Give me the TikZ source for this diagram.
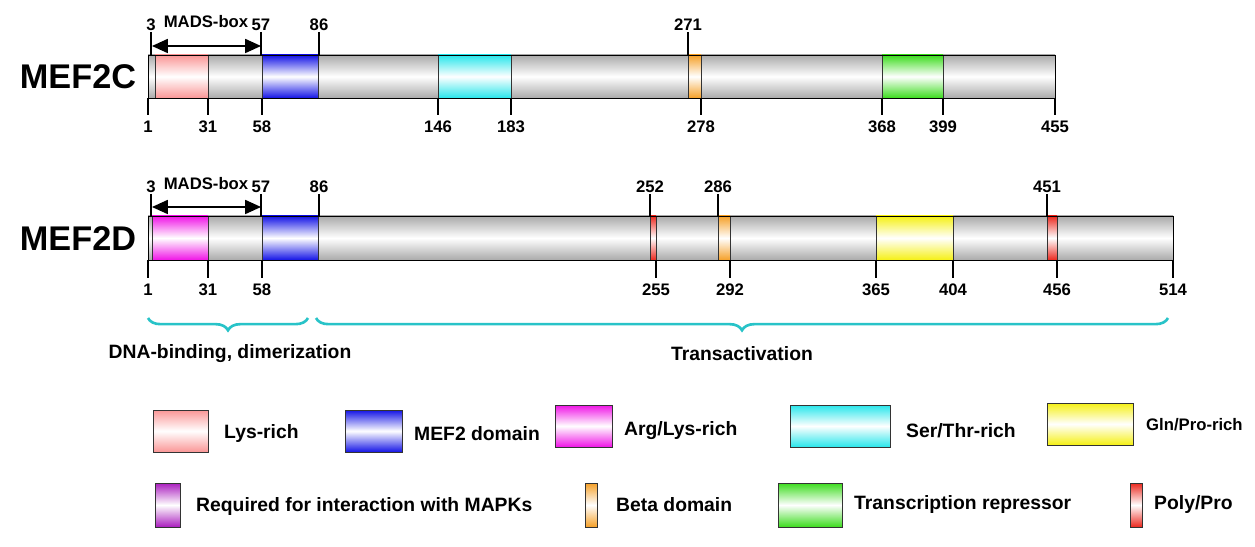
\documentclass[tikz,border=0pt]{standalone}
\usepackage{fontspec}
\setmainfont{Liberation Sans}
\usetikzlibrary{arrows.meta,decorations.pathreplacing}
\definecolor{gr}{RGB}{170,170,170}
\definecolor{pk}{RGB}{250,150,150}
\definecolor{bl}{RGB}{20,20,230}
\definecolor{mg}{RGB}{240,20,230}
\definecolor{cy}{RGB}{40,230,235}
\definecolor{yl}{RGB}{245,240,20}
\definecolor{or}{RGB}{245,160,40}
\definecolor{gn}{RGB}{60,220,30}
\definecolor{rd}{RGB}{235,40,30}
\definecolor{pu}{RGB}{170,30,190}
\definecolor{tl}{RGB}{40,195,200}
\tikzset{
 seg/.style={top color=#1, bottom color=#1, middle color=white, draw=black!80, line width=0.5pt},
 num/.style={font=\bfseries\fontsize{9.5}{10}\selectfont, inner sep=1pt},
 tick/.style={line width=0.6pt},
 leg/.style={font=\bfseries\fontsize{11}{12}\selectfont, anchor=west},
 big/.style={font=\bfseries\fontsize{19.5}{22}\selectfont},
 brace/.style={draw=tl, line width=1.5pt, decorate, decoration={brace, mirror, amplitude=7pt}}
}
\begin{document}
\begin{tikzpicture}[x=0.02cm,y=-0.02cm]
\useasboundingbox (0,0) rectangle (1255,547);
% ---------- MEF2C ----------
\node[big] (c) at (78,77) {MEF2C};
\shade[seg=gr] (148,55) rectangle (1055,98);
\shade[seg=pk] (155,55) rectangle (208,98);
\shade[seg=bl] (262,55) rectangle (318,98);
\shade[seg=cy] (438,55) rectangle (511,98);
\shade[seg=or] (688,55) rectangle (701,98);
\shade[seg=gn] (882,55) rectangle (943,98);
\draw[line width=0.5pt] (148,55) rectangle (1055,98);
\foreach \x/\t in {151/3,261/57,319/86,688/271}{
  \node[num] at (\x,25) {\t};
  \draw[tick] (\x,32) -- (\x,55);}
\node[num] (mc) at (206,22) {MADS-box};
\draw[{Triangle[length=9pt,width=8pt]}-{Triangle[length=9pt,width=8pt]},line width=0.8pt] (152,46) -- (261,46);
\foreach \x/\t in {148/1,208/31,262/58,438/146,511/183,701/278,882/368,943/399,1055/455}{
  \draw[tick] (\x,98) -- (\x,115);
  \node[num] at (\x,127) {\t};}
% ---------- MEF2D ----------
\node[big] (d) at (78,239) {MEF2D};
\shade[seg=gr] (148,216) rectangle (1173,260);
\shade[seg=mg] (152,216) rectangle (208,260);
\shade[seg=bl] (262,216) rectangle (318,260);
\shade[seg=rd] (650,216) rectangle (656,260);
\shade[seg=or] (718,216) rectangle (730,260);
\shade[seg=yl] (876,216) rectangle (953,260);
\shade[seg=rd] (1047,216) rectangle (1057,260);
\draw[line width=0.5pt] (148,216) rectangle (1173,260);
\foreach \x/\t in {151/3,261/57,319/86,650/252,718/286,1047/451}{
  \node[num] at (\x,187) {\t};
  \draw[tick] (\x,194) -- (\x,216);}
\node[num] (md) at (206,184) {MADS-box};
\draw[{Triangle[length=9pt,width=8pt]}-{Triangle[length=9pt,width=8pt]},line width=0.8pt] (152,207) -- (261,207);
\foreach \x/\t in {148/1,208/31,262/58,656/255,730/292,876/365,953/404,1057/456,1173/514}{
  \draw[tick] (\x,260) -- (\x,278);
  \node[num] at (\x,290) {\t};}
% ---------- braces ----------
\draw[brace] (148,318) -- (308,318);
\draw[brace] (316,318) -- (1168,318);
\node[leg, anchor=center] (dna) at (230,354) {DNA-binding, dimerization};
\node[leg, anchor=center] (ta) at (742,354) {Transactivation};
% ---------- legend ----------
\shade[seg=pk] (153,410) rectangle (208,452); \node[leg] (l1) at (218,434) {Lys-rich};
\shade[seg=bl] (345,410) rectangle (402,452); \node[leg] (l2) at (408,434) {MEF2 domain};
\shade[seg=mg] (555,405) rectangle (612,447); \node[leg] (l3) at (618,431) {Arg/Lys-rich};
\shade[seg=cy] (790,405) rectangle (890,447); \node[leg] (l4) at (900,431) {Ser/Thr-rich};
\shade[seg=yl] (1047,403) rectangle (1133,445); \node[leg, font=\bfseries\fontsize{9.5}{10}\selectfont] (l5) at (1140,425) {Gln/Pro-rich};
\shade[seg=pu] (155,483) rectangle (180,527); \node[leg] (l6) at (190,507) {Required for interaction with MAPKs};
\shade[seg=or] (585,483) rectangle (597,527); \node[leg] (l7) at (610,505) {Beta domain};
\shade[seg=gn] (778,483) rectangle (842,527); \node[leg] (l8) at (848,505) {Transcription repressor};
\shade[seg=rd] (1130,483) rectangle (1142,527); \node[leg] (l9) at (1148,505) {Poly/Pro};
\end{tikzpicture}
\end{document}
